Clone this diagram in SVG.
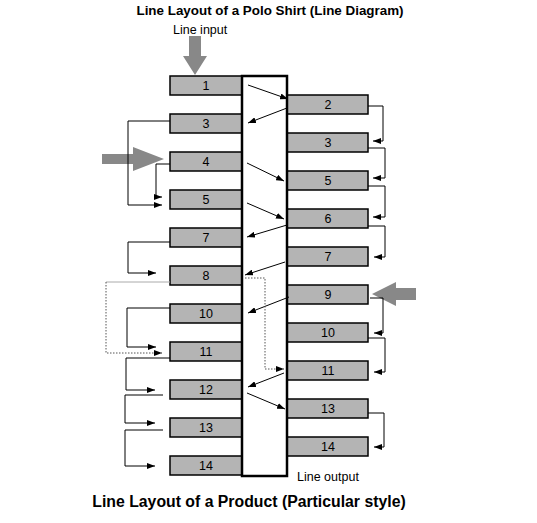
<svg xmlns="http://www.w3.org/2000/svg" width="537" height="523" viewBox="0 0 537 523">
<defs>
<marker id="ah" markerWidth="8" markerHeight="6" refX="8" refY="3" orient="auto" markerUnits="userSpaceOnUse">
<path d="M0,0 L8,3 L0,6 Z" fill="#000"/>
</marker>
<style>
.bx{fill:#b4b4b4;stroke:#000;stroke-width:1.5}
.num{font-family:"Liberation Sans",Arial,sans-serif;font-size:12.5px;text-anchor:middle;fill:#000}
.lbl{font-family:"Liberation Sans",Arial,sans-serif;font-size:12.5px;fill:#000}
.ttl{font-family:"Liberation Sans",Arial,sans-serif;font-weight:bold;fill:#000;text-anchor:middle}
.c{fill:none;stroke:#000;stroke-width:1;marker-end:url(#ah)}
.d{fill:none;stroke:#555;stroke-width:1;stroke-dasharray:1.5,1.5;marker-end:url(#ah)}
.big{fill:#888}
</style>
</defs>
<rect width="537" height="523" fill="#fff"/>
<text class="ttl" x="270" y="15" font-size="13.4">Line Layout of a Polo Shirt (Line Diagram)</text>
<text class="lbl" x="173" y="34">Line input</text>
<text class="lbl" x="297" y="481">Line output</text>
<text class="ttl" x="249" y="507" font-size="15.8">Line Layout of a Product (Particular style)</text>

<g id="station">
<rect x="242" y="76" width="45" height="400" fill="#fff" stroke="none"/>
</g>

<g id="arrows-big">
<path class="big" d="M189,36 H201 V56 H207 L195,75 L183,56 H189 Z"/>
<path class="big" d="M102,154 H133 V147 L164,159 L133,171 V164 H102 Z"/>
<path class="big" d="M416,288 H396 V282 L372,294 L396,306 V300 H416 Z"/>
</g>

<g id="L1"><rect class="bx" x="170" y="76" width="72" height="19"/><text class="num" x="206" y="90">1</text></g>
<g id="L3"><rect class="bx" x="170" y="114" width="72" height="19"/><text class="num" x="206" y="128">3</text></g>
<g id="L4"><rect class="bx" x="170" y="152" width="72" height="19"/><text class="num" x="206" y="166">4</text></g>
<g id="L5"><rect class="bx" x="170" y="190" width="72" height="19"/><text class="num" x="206" y="204">5</text></g>
<g id="L7"><rect class="bx" x="170" y="228" width="72" height="19"/><text class="num" x="206" y="242">7</text></g>
<g id="L8"><rect class="bx" x="170" y="266" width="72" height="19"/><text class="num" x="206" y="280">8</text></g>
<g id="L10"><rect class="bx" x="170" y="304" width="72" height="19"/><text class="num" x="206" y="318">10</text></g>
<g id="L11"><rect class="bx" x="170" y="342" width="72" height="19"/><text class="num" x="206" y="356">11</text></g>
<g id="L12"><rect class="bx" x="170" y="380" width="72" height="19"/><text class="num" x="206" y="394">12</text></g>
<g id="L13"><rect class="bx" x="170" y="418" width="72" height="19"/><text class="num" x="206" y="432">13</text></g>
<g id="L14"><rect class="bx" x="170" y="456" width="72" height="19"/><text class="num" x="206" y="470">14</text></g>

<g id="R2"><rect class="bx" x="287" y="95" width="81" height="19"/><text class="num" x="328" y="109">2</text></g>
<g id="R3"><rect class="bx" x="287" y="133" width="81" height="19"/><text class="num" x="328" y="147">3</text></g>
<g id="R5"><rect class="bx" x="287" y="171" width="81" height="19"/><text class="num" x="328" y="185">5</text></g>
<g id="R6"><rect class="bx" x="287" y="209" width="81" height="19"/><text class="num" x="328" y="223">6</text></g>
<g id="R7"><rect class="bx" x="287" y="247" width="81" height="19"/><text class="num" x="328" y="261">7</text></g>
<g id="R9"><rect class="bx" x="287" y="285" width="81" height="19"/><text class="num" x="328" y="299">9</text></g>
<g id="R10"><rect class="bx" x="287" y="323" width="81" height="19"/><text class="num" x="328" y="337">10</text></g>
<g id="R11"><rect class="bx" x="287" y="361" width="81" height="19"/><text class="num" x="328" y="375">11</text></g>
<g id="R13"><rect class="bx" x="287" y="399" width="81" height="19"/><text class="num" x="328" y="413">13</text></g>
<g id="R14"><rect class="bx" x="287" y="437" width="81" height="19"/><text class="num" x="328" y="451">14</text></g>

<g id="station-frame">
<rect x="242" y="76" width="45" height="400" fill="none" stroke="#000" stroke-width="2.5"/>
</g>

<g id="connectors">
<path class="c" d="M248,85 L288,99"/>
<path class="c" d="M287,108 L248,123"/>
<path class="c" d="M247,163 L284,181"/>
<path class="c" d="M247,203 L284,219"/>
<path class="c" d="M287,225 L247,237"/>
<path class="c" d="M285,262 L245,275"/>
<path class="c" d="M289,297 L248,313"/>
<path class="c" d="M284,373 L248,387"/>
<path class="c" d="M247,393 L285,409"/>
<path class="c" d="M170,121 H128 V205 H162"/>
<path class="c" d="M170,164 H156 V197 H162"/>
<path class="c" d="M170,242 H128 V273 H156"/>
<path d="M170,282 H106" fill="none" stroke="#aaa" stroke-width="1"/>
<path class="d" d="M106,282 V353 H162"/>
<path class="c" d="M170,308 H127 V347 H156"/>
<path class="c" d="M170,358 H126 V390 H155"/>
<path class="c" d="M163,395 H125 V423 H155"/>
<path class="c" d="M163,430 H125 V466 H155"/>
<path class="d" d="M245,278 H265 V369 H284"/>
<path class="c" d="M368,106 H383 V141 H373"/>
<path class="c" d="M368,148 H385 V178 H373"/>
<path class="c" d="M368,186 H385 V217 H373"/>
<path class="c" d="M368,226 H385 V257 H374"/>
<path class="c" d="M370,298 H383 V333 H374"/>
<path class="c" d="M368,338 H385 V372 H374"/>
<path class="c" d="M368,413 H384 V447 H374"/>
</g>
</svg>
